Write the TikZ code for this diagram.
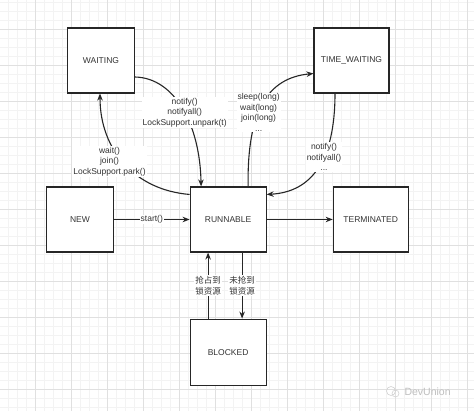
\documentclass[tikz,border=0pt]{standalone}
\usepackage{fontspec}
\setmainfont{Liberation Sans}
\newfontfamily\cjk{Noto Sans CJK SC}
\usepackage{tikz}
\usetikzlibrary{arrows.meta, positioning}
\definecolor{gridminor}{HTML}{F3F3F3}
\definecolor{gridmajor}{HTML}{E0E0E0}
\definecolor{textgrey}{HTML}{333333}
\tikzset{
  state/.style={rectangle, draw=black!85, line width=1.1pt, fill=white,
                minimum width=#1, minimum height=65pt, inner sep=0pt,
                font=\fontsize{8.5}{10}\selectfont, text=textgrey},
  state/.default=76pt,
  arrow/.style={-{Stealth[length=7pt, width=5.5pt]}, line width=1.1pt, black!85},
  trans/.style={fill=white, inner sep=1pt, align=center, text=textgrey,
                font=\fontsize{8.5}{10.5}\selectfont},
}

\begin{document}
\begin{tikzpicture}[x=1pt, y=-1pt]

% ── 背景网格 ──────────────────────────────────────────────────────────────────
\fill[white] (0,0) rectangle (474,411);
\useasboundingbox (0,0) rectangle (474,411);
\foreach \gx in {8.5,17.5,...,474} \draw[gridminor, line width=0.5pt] (\gx,0) -- (\gx,411);
\foreach \gy in {2,11,...,411} \draw[gridminor, line width=0.5pt] (0,\gy) -- (474,\gy);
\foreach \gx in {35.5,71.5,...,474} \draw[gridmajor, line width=0.6pt] (\gx,0) -- (\gx,411);
\foreach \gy in {29,65,...,411} \draw[gridmajor, line width=0.6pt] (0,\gy) -- (474,\gy);

% ── 线程状态 ──────────────────────────────────────────────────────────────────
\node[state=67pt] (waiting) at (101,60.5) {WAITING};
\node[state=75pt] (timewait) at (351.5,60.5) {TIME\_WAITING};

\node[state=67pt] (new) at (80,219.5) {NEW};
\node[state, right=75.5pt of new] (runnable) {RUNNABLE};
\node[state=75pt, right=66pt of runnable] (terminated) {TERMINATED};
\node[state, minimum height=66pt, below=66pt of runnable] (blocked) {BLOCKED};

% ── 直线转换 ──────────────────────────────────────────────────────────────────
\draw[arrow] (new) -- node[trans] {start()} (runnable);
\draw[arrow] (runnable) -- (terminated);

\draw[arrow] ([xshift=-20pt]blocked.north) --
  node[trans] {\cjk 抢占到\\\cjk 锁资源} ([xshift=-20pt]runnable.south);
\draw[arrow] ([xshift=14pt]runnable.south) --
  node[trans] {\cjk 未抢到\\\cjk 锁资源} ([xshift=14pt]blocked.north);

% ── 等待 / 唤醒 ───────────────────────────────────────────────────────────────
\draw[arrow] ([yshift=-16.5pt]waiting.east)
  .. controls (175,78) and (200,125) .. ([xshift=-27pt]runnable.north)
  node[trans, pos=0.53] {notify()\\notifyall()\\LockSupport.unpark(t)};

\draw[arrow] ([yshift=-8pt]runnable.north west)
  .. controls (135,190) and (100,150) .. ([xshift=-1pt]waiting.south)
  node[trans, pos=0.52, xshift=-13pt] {wait()\\join()\\LockSupport.park()};

\draw[arrow] ([xshift=20pt]runnable.north)
  .. controls (247,110) and (268,78) .. ([yshift=-13pt]timewait.west)
  node[trans, pos=0.42] {sleep(long)\\wait(long)\\join(long)\\...};

\draw[arrow] ([xshift=-16.5pt]timewait.south)
  .. controls (335,160) and (312,192) .. ([yshift=-8pt]runnable.north east)
  node[trans, pos=0.4] {notify()\\notifyall()\\...};

% ── 水印 ──────────────────────────────────────────────────────────────────────
\node[text=gray!50, font=\fontsize{10.5}{12}\selectfont, anchor=west] (mark)
  at (401,392) {DevUnion};
\draw[gray!35, line width=0.6pt] (391,391) circle (4.5pt);
\draw[gray!35, line width=0.6pt] (395.5,393.5) circle (3.5pt);

\end{tikzpicture}
\end{document}
